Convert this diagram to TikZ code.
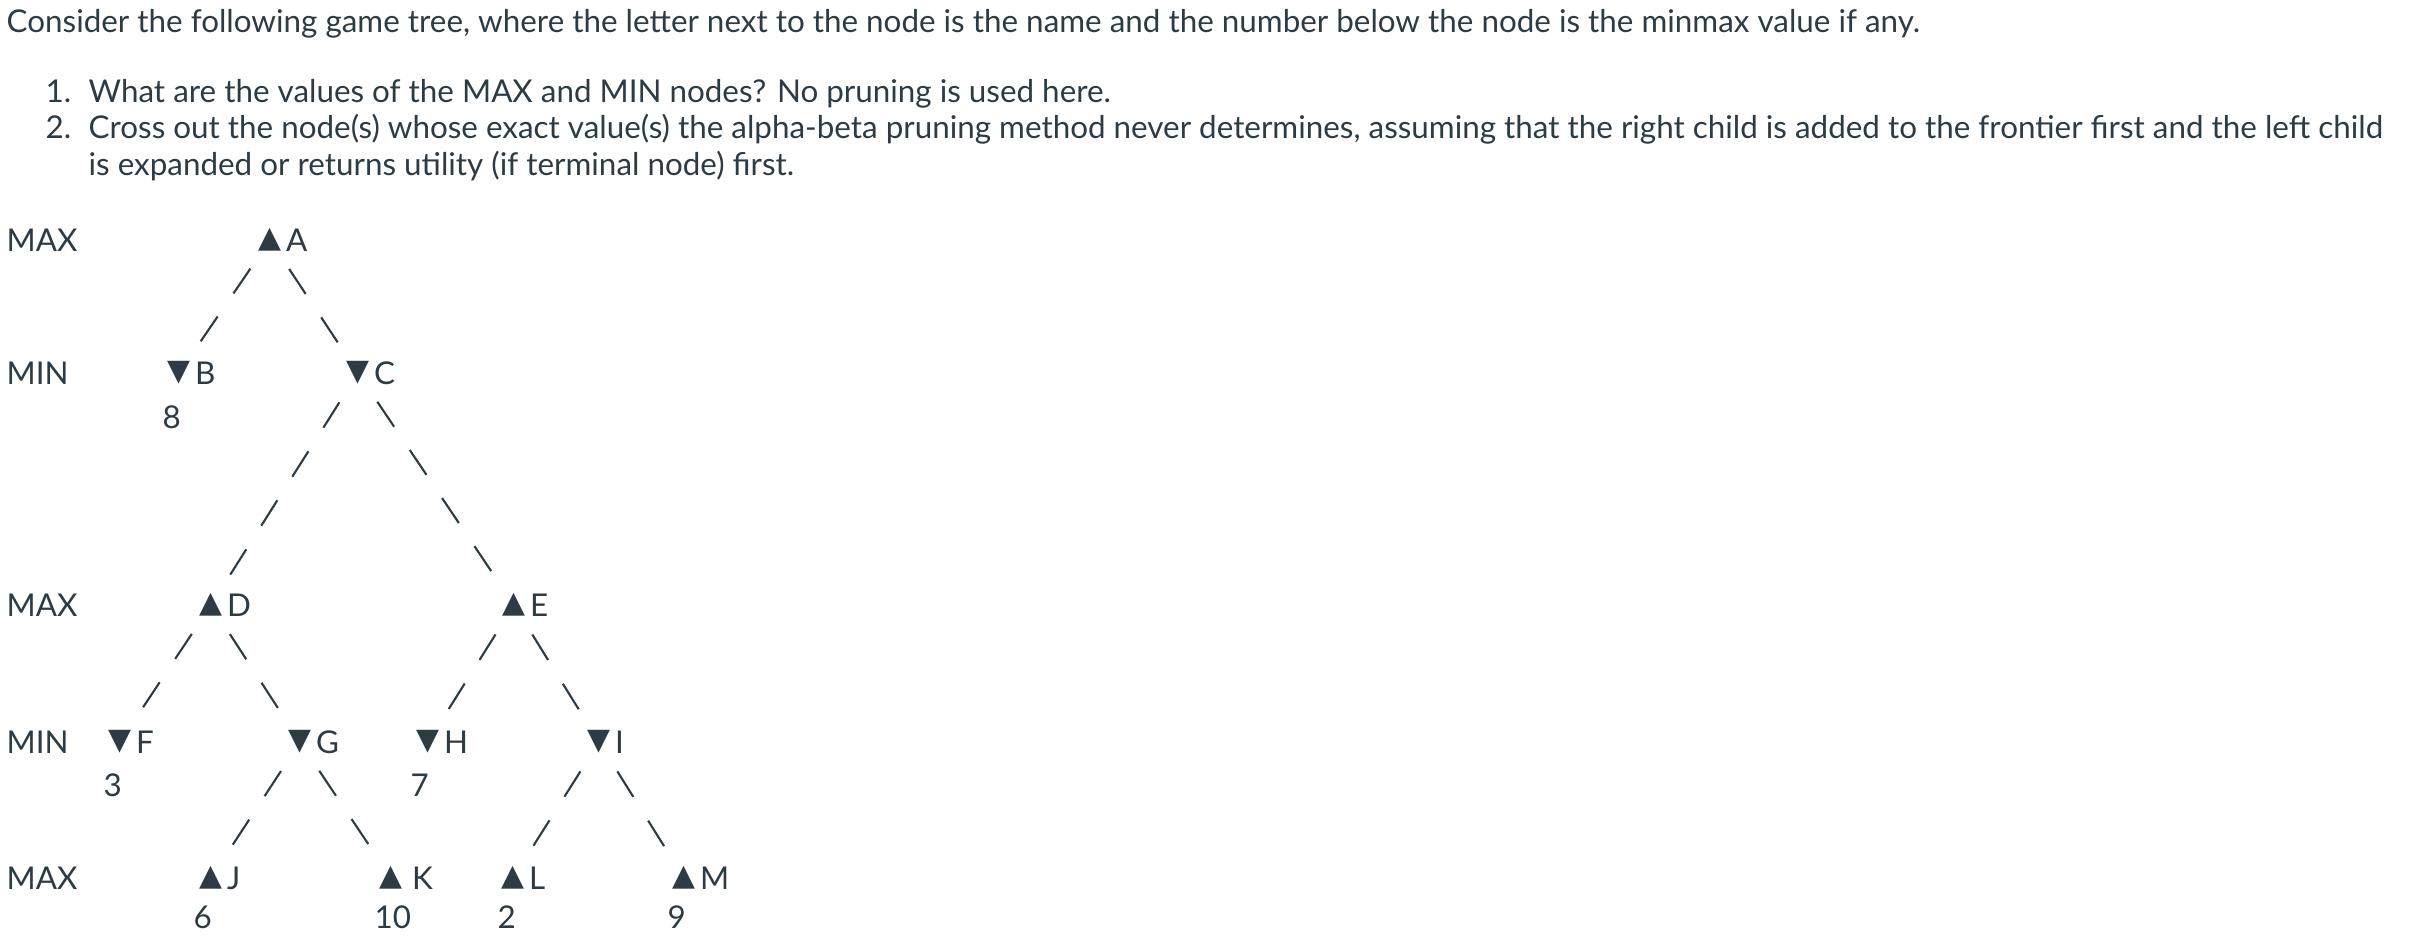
\documentclass[tikz,border=0pt]{standalone}
\usepackage{fontspec}
\usetikzlibrary{positioning}
\setmainfont{Lato}
\newfontfamily\trifont{DejaVu Sans}
\definecolor{ink}{HTML}{2D3B45}
\newcommand{\txtsize}{\fontsize{8.93pt}{10.5pt}\selectfont}
\newcommand{\trisize}{\fontsize{8.5pt}{10pt}\selectfont}

\tikzset{
  every node/.style={text=ink, font=\txtsize},
  txtline/.style={anchor=base west, inner sep=0pt},
  numl/.style={anchor=base east, inner sep=0pt},
  lvl/.style={anchor=west, inner sep=0pt},
  val/.style={anchor=base west, inner sep=0pt},
  gnode/.style={circle, minimum size=0.68cm, inner sep=0pt, font=\trifont\trisize},
  gname/.style={inner sep=0pt, font=\txtsize},
  conn/.style={draw=ink, line width=0.6pt, dash pattern=on 0.30cm off 0.28cm},
}

\begin{document}
\begin{tikzpicture}
\useasboundingbox (0,0) rectangle (24.24,-9.43);

% question text
\node[txtline](title) at (0.06,-0.32) {Consider the following game tree, where the letter next to the node is the name and the number below the node is the minmax value if any.};
\node[numl](n1) at (0.72,-1.02) {1.};
\node[txtline](q1) at (0.88,-1.02) {What are the values of the MAX and MIN nodes? No pruning is used here.};
\node[numl](n2) at (0.72,-1.38) {2.};
\node[txtline](q2) at (0.88,-1.38) {Cross out the node(s) whose exact value(s) the alpha-beta pruning method never determines, assuming that the right child is added to the frontier first and the left child};
\node[txtline](q2b) at (0.88,-1.75) {is expanded or returns utility (if terminal node) first.};

% levels
\node[lvl](lv1) at (0.06,-2.40) {MAX};
\node[lvl](lv2) at (0.06,-3.73) {MIN};
\node[lvl](lv3) at (0.06,-6.05) {MAX};
\node[lvl](lv4) at (0.06,-7.42) {MIN};
\node[lvl](lv5) at (0.06,-8.78) {MAX};

% tree
\node[gnode](A) at (2.70,-2.40) {▲};
\node[gnode](B) at (1.79,-3.73) {▼};
\node[gnode](C) at (3.58,-3.73) {▼};
\node[gnode](D) at (2.11,-6.05) {▲};
\node[gnode](E) at (5.14,-6.05) {▲};
\node[gnode](F) at (1.20,-7.42) {▼};
\node[gnode](G) at (3.00,-7.42) {▼};
\node[gnode](H) at (4.28,-7.42) {▼};
\node[gnode](I) at (5.99,-7.42) {▼};
\node[gnode](J) at (2.11,-8.78) {▲};
\node[gnode](K) at (3.91,-8.78) {▲};
\node[gnode](L) at (5.13,-8.78) {▲};
\node[gnode](M) at (6.84,-8.78) {▲};

% names
\node[gname, right=0.155cm of A.center](nA) {A};
\node[gname, right=0.155cm of B.center](nB) {B};
\node[gname, right=0.155cm of C.center](nC) {C};
\node[gname, right=0.155cm of D.center](nD) {D};
\node[gname, right=0.155cm of E.center](nE) {E};
\node[gname, right=0.155cm of F.center](nF) {F};
\node[gname, right=0.155cm of G.center](nG) {G};
\node[gname, right=0.155cm of H.center](nH) {H};
\node[gname, right=0.155cm of I.center](nI) {I};
\node[gname, right=0.155cm of J.center](nJ) {J};
\node[gname, right=0.205cm of K.center](nK) {K};
\node[gname, right=0.155cm of L.center](nL) {L};
\node[gname, right=0.155cm of M.center](nM) {M};

% values
\node[val](vB) at (1.62,-4.28) {8};
\node[val](vF) at (1.03,-7.96) {3};
\node[val](vH) at (4.10,-7.96) {7};
\node[val](vJ) at (1.93,-9.28) {6};
\node[val](vK) at (3.74,-9.28) {10};
\node[val](vL) at (4.97,-9.28) {2};
\node[val](vM) at (6.67,-9.28) {9};

\draw[conn] (A) -- (B);
\draw[conn] (A) -- (C);
\draw[conn] (C) -- (D);
\draw[conn] (C) -- (E);
\draw[conn] (D) -- (F);
\draw[conn] (D) -- (G);
\draw[conn] (E) -- (H);
\draw[conn] (E) -- (I);
\draw[conn] (G) -- (J);
\draw[conn] (G) -- (K);
\draw[conn] (I) -- (L);
\draw[conn] (I) -- (M);

\end{tikzpicture}
\end{document}
